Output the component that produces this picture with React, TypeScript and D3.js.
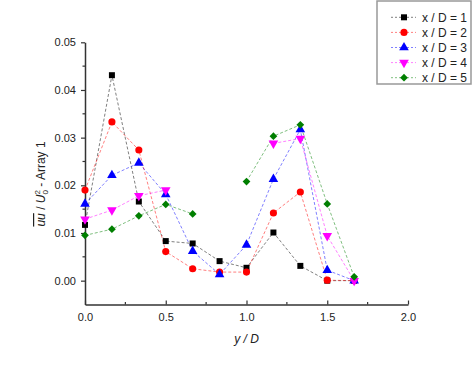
import React from "react";
import * as d3 from "d3";

// y / D stations
const yD = [0, 1 / 6, 1 / 3, 0.5, 2 / 3, 5 / 6, 1, 7 / 6, 4 / 3, 1.5, 5 / 3];

const seriesNames = ["x / D = 1", "x / D = 2", "x / D = 3", "x / D = 4", "x / D = 5"];
const seriesColors = ["#000000", "#ff0000", "#0000ff", "#ff00ff", "#007f00"];

const xd1 = [0.0117, 0.0431, 0.0166, 0.0083, 0.0078, 0.0041, 0.0027, 0.0101, 0.0031, 0.0000, 0.0000];
const xd2 = [0.0190, 0.0333, 0.0274, 0.0061, 0.0025, 0.0018, 0.0018, 0.0142, 0.0186, 0.0001, 0.0000];
const xd3 = [0.0161, 0.0221, 0.0247, 0.0181, 0.0062, 0.0013, 0.0075, 0.0213, 0.0317, 0.0022, 0.0000];
const xd4 = [0.0129, 0.0148, 0.0178, 0.0190, null, null, null, 0.0288, 0.0298, 0.0094, 0.0000];
const xd5 = [0.0095, 0.0108, 0.0136, 0.0160, 0.0140, null, 0.0208, 0.0303, 0.0327, 0.0161, 0.0008];

const seriesValues = [xd1, xd2, xd3, xd4, xd5];

const xTicks = [0, 0.5, 1, 1.5, 2];
const xMinor = [0.25, 0.75, 1.25, 1.75];
const yTicks = [0, 0.01, 0.02, 0.03, 0.04, 0.05];
const yMinor = [0.005, 0.015, 0.025, 0.035, 0.045];

const markerPath = (i: number) => {
  if (i === 0) return d3.symbol(d3.symbolSquare, 36)();
  if (i === 1) return d3.symbol(d3.symbolCircle, 40)();
  if (i === 2 || i === 3) return d3.symbol(d3.symbolTriangle, 40)();
  return d3.symbol(d3.symbolSquare, 30)();
};
const markerRotate = (i: number) => (i === 3 ? 180 : i === 4 ? 45 : 0);

const App = () => {
  const svgRef = React.useRef<SVGSVGElement>(null);
  const width = 474;
  const height = 366;

  React.useEffect(() => {
    const x = d3.scaleLinear().domain([0, 2]).range([85, 408]);
    const y = d3.scaleLinear().domain([-0.005, 0.05]).range([304.5, 42.3]);

    const svgEl = d3.select(svgRef.current);
    svgEl.selectAll("*").remove();
    const svg = svgEl.append("g");

    const font = "Liberation Sans, Arial, sans-serif";
    const axisColor = "#333";

    // y axis
    const yAxisG = svg
      .append("g")
      .attr("transform", `translate(${x(0)},0)`)
      .call(d3.axisLeft(y).tickValues(yTicks).tickFormat(d3.format(".2f")).tickSize(4).tickSizeOuter(0));
    yAxisG.select(".domain").attr("stroke", axisColor).attr("stroke-width", 1.5);
    yAxisG.selectAll(".tick line").attr("stroke", axisColor).attr("stroke-width", 1.2);
    yAxisG
      .selectAll(".tick text")
      .attr("font-family", font)
      .attr("font-size", 11)
      .attr("fill", "#222")
      .attr("x", -9);
    yAxisG
      .selectAll(".minor")
      .data(yMinor)
      .enter()
      .append("line")
      .attr("x1", -2.5)
      .attr("x2", 0)
      .attr("y1", (d) => y(d))
      .attr("y2", (d) => y(d))
      .attr("stroke", axisColor)
      .attr("stroke-width", 1.2);

    // x axis
    const xAxisG = svg
      .append("g")
      .attr("transform", `translate(0,${y(-0.005)})`)
      .call(d3.axisBottom(x).tickValues(xTicks).tickFormat(d3.format(".1f")).tickSize(4).tickSizeOuter(0));
    xAxisG.select(".domain").attr("stroke", axisColor).attr("stroke-width", 1.5);
    xAxisG.selectAll(".tick line").attr("stroke", axisColor).attr("stroke-width", 1.2).attr("y1", -4).attr("y2", 0);
    xAxisG
      .selectAll(".tick text")
      .attr("font-family", font)
      .attr("font-size", 11)
      .attr("fill", "#222")
      .attr("y", 9);
    xAxisG
      .selectAll(".minor")
      .data(xMinor)
      .enter()
      .append("line")
      .attr("x1", (d) => x(d))
      .attr("x2", (d) => x(d))
      .attr("y1", -2.5)
      .attr("y2", 0)
      .attr("stroke", axisColor)
      .attr("stroke-width", 1.2);

    // x label
    svg
      .append("text")
      .attr("x", x(1))
      .attr("y", 343)
      .attr("text-anchor", "middle")
      .attr("font-family", font)
      .attr("font-size", 12)
      .attr("font-style", "italic")
      .attr("fill", "#222")
      .text("y / D");

    // y label
    const yl = svg
      .append("text")
      .attr("transform", `translate(45,184) rotate(-90)`)
      .attr("text-anchor", "middle")
      .attr("font-family", font)
      .attr("font-size", 12)
      .attr("fill", "#222");
    yl.append("tspan").attr("font-style", "italic").style("text-decoration", "overline").text("uu");
    yl.append("tspan").text(" / ");
    yl.append("tspan").attr("font-style", "italic").text("U");
    yl.append("tspan").attr("font-size", 8).attr("dy", 3).text("0");
    yl.append("tspan").attr("font-size", 8).attr("dx", -4.5).attr("dy", -8).text("2");
    yl.append("tspan").attr("dy", 5).text(" - Array 1");

    // lines
    const line = d3
      .line<number | null>()
      .defined((d) => d !== null)
      .x((_, i) => x(yD[i]))
      .y((d) => y(d as number));

    seriesValues.forEach((vals, s) => {
      svg
        .append("path")
        .datum(vals)
        .attr("fill", "none")
        .attr("stroke", seriesColors[s])
        .attr("stroke-opacity", 0.5)
        .attr("stroke-width", 1)
        .attr("stroke-dasharray", "3,2")
        .attr("d", line);
    });

    seriesValues.forEach((vals, s) => {
      svg
        .selectAll(`.m${s}`)
        .data(vals.map((v, i) => ({ v, i })).filter((d) => d.v !== null))
        .enter()
        .append("path")
        .attr("d", markerPath(s))
        .attr("transform", (d) => `translate(${x(yD[d.i])},${y(d.v as number)}) rotate(${markerRotate(s)})`)
        .attr("fill", seriesColors[s]);
    });

    // legend
    const lg = svg.append("g");
    lg.append("rect")
      .attr("x", 377)
      .attr("y", 1)
      .attr("width", 94)
      .attr("height", 83)
      .attr("fill", "white")
      .attr("stroke", "#999")
      .attr("stroke-width", 1.5);
    seriesNames.forEach((name, s) => {
      const cy = 17.3 + s * 15.1;
      lg.append("line")
        .attr("x1", 391)
        .attr("x2", 416)
        .attr("y1", cy)
        .attr("y2", cy)
        .attr("stroke", seriesColors[s])
        .attr("stroke-opacity", 0.5)
        .attr("stroke-dasharray", "2,2");
      lg.append("path")
        .attr("d", markerPath(s))
        .attr("transform", `translate(404,${cy}) rotate(${markerRotate(s)})`)
        .attr("fill", seriesColors[s]);
      lg.append("text")
        .attr("x", 422)
        .attr("y", cy + 4.3)
        .attr("font-family", font)
        .attr("font-size", 12)
        .attr("fill", "#222")
        .text(name);
    });
  }, []);

  return (
    <svg
      ref={svgRef}
      width={width}
      height={height}
      style={{ position: "absolute", left: 0, top: 0, background: "white" }}
    />
  );
};

export default App;
